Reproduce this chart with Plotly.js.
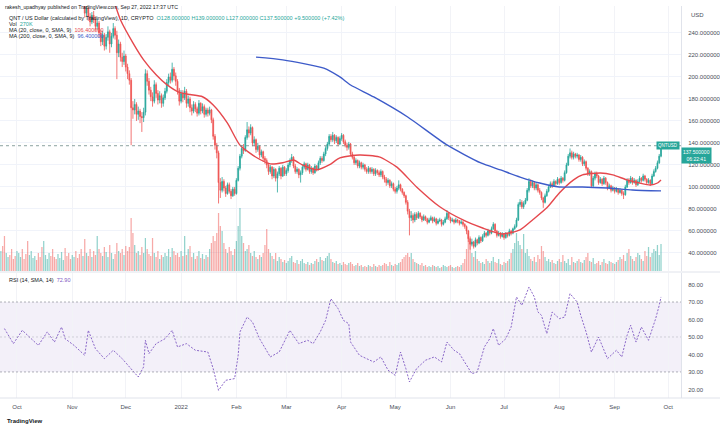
<!DOCTYPE html>
<html><head><meta charset="utf-8">
<script src="https://cdn.plot.ly/plotly-3.0.1.min.js"></script>
<style>html,body{margin:0;padding:0;background:#fff;}#chart{width:720px;height:426px;}</style>
</head><body><div id="chart"></div>
<script>
// ---- DATA (QNT/USD daily, 2021-09-22 .. 2022-09-27) ----
const baseDay = '2021-10-01';          // day index 0
const candleStartDay = -9;             // first candle = 2021-09-22
const firstOpen = 295;
const closes = [
300,292,285,296,310,305,298,290,282,288, 295,302,297,290,286,280,288,294,300,306,
298,292,287,283,290,296,302,308,300,293, 288,284,291,297,303,310,298,286,279,275,
282,288,281,276,272,268,270,
258,262,255,250,256,252,246,249,240,232, 238,228,236,241,230,237,244,238,222,230,
218,214,219,209,203,197,172,170,175,166, 169,164,163,168,203,196,188,182,178,193,
185,179,183,176,181,187,195,200,197,207, 201,196,188,178,185,181,187,176,180,172,
169,175,171,167,176,169,173,166,170,167, 170,161,146,138,131,104,97,105,99,94,
102,96,92,98,94,106,117,128,135,133, 145,152,149,154,140,143,134,137,129,132,
126,124,120,114,118,110,116,108,112,117, 110,118,112,115,120,124,127,119,114,116,
111,113,118,121,116,120,114,117,113,119, 116,122,126,124,130,135,139,146,143,147,
142,145,139,144,147,141,138,136,139,130, 127,122,124,119,122,118,120,116,114,117,
114,116,112,115,113,111,114,109,107,104, 106,101,103,98,96,99,102,98,95,92,
86,78,72,74,70,75,72,76,73,70, 73,71,68,70,72,69,71,67,69,70,
66,68,71,76,72,69,70,68,70,69, 67,68,66,64,60,53,48,50,46,52,
49,54,51,55,58,56,60,58,62,66, 60,56,58,55,57,54,57,56,60,58,
62,64,70,84,86,82,85,88,97,105, 101,104,99,102,97,95,90,86,92,96,
100,103,101,105,103,107,104,108,106,113, 120,128,131,127,130,128,129,125,127,121,
123,117,112,114,101,108,112,110,104,107, 103,108,104,99,101,97,99,96,98,95,
97,94,93,100,106,104,108,104,106,102, 105,108,106,110,107,104,106,103,110,114,
117,122,128,137.5];
const highs = [
306,303,294,300,316,313,308,300,292,292, 299,307,305,299,292,288,292,299,305,312,
309,301,294,290,294,300,307,314,310,302, 295,290,295,301,308,316,312,300,289,282,
286,292,290,284,279,275,274,
272,266,264,258,259,260,254,253,251,243, 242,240,239,246,243,240,249,246,242,234,
232,222,224,221,212,206,199,178,180,177, 173,171,168,172,207,206,199,191,186,197,
195,188,187,185,184,190,198,203,204,213, 209,204,198,190,188,188,191,189,183,182,
175,178,177,173,179,177,176,175,172,172, 173,171,163,148,140,133,108,109,107,101,
104,104,98,100,100,108,119,130,138,139, 147,159,155,157,155,146,144,140,138,134,
133,128,126,122,120,119,118,117,114,119, 118,120,119,117,122,126,130,128,121,118,
117,115,120,123,122,122,121,119,118,121, 120,124,128,128,132,137,141,148,148,150,
148,147,146,146,149,148,143,140,141,140, 132,129,126,125,124,123,122,121,118,119,
118,118,117,117,116,115,116,115,111,109, 108,107,105,104,100,101,106,103,99,96,
93,88,80,78,76,77,77,78,77,74, 75,74,72,72,74,73,73,72,71,72,
71,70,73,79,77,73,72,71,72,71, 70,70,69,67,65,61,55,53,51,54,
53,56,55,57,60,59,62,61,64,68, 67,61,60,59,59,58,59,58,62,61,
63,66,72,86,89,88,87,90,99,108, 107,106,105,104,103,99,96,91,94,98,
102,105,105,107,106,109,108,110,109,115, 122,130,135,133,132,131,131,130,129,128,
125,124,118,116,115,110,114,114,111,109, 108,110,109,105,103,102,101,100,100,99,
99,98,96,102,108,108,110,109,108,107, 107,110,109,112,111,108,108,107,112,116,
119,124,130,139];
const lows = [
290,288,281,282,293,300,294,286,278,279, 285,292,293,285,281,276,276,285,290,297,
294,287,283,279,280,287,293,299,296,288, 283,280,280,288,294,299,294,282,275,271,
272,279,278,272,269,266,266,
254,255,251,246,248,249,242,243,236,228, 229,224,225,233,222,227,235,234,198,218,
214,209,211,205,198,193,138,162,166,160, 161,158,150,159,165,192,184,178,173,176,
181,175,176,172,173,179,185,192,194,195, 197,192,184,174,176,177,179,172,173,168,
165,167,168,164,165,166,167,163,164,164, 165,158,143,134,126,85,90,95,96,91,
93,94,89,91,92,93,105,115,126,130, 132,143,145,147,137,137,131,132,126,127,
123,121,117,111,112,107,108,105,95,110, 107,109,110,110,113,118,122,117,112,112,
108,104,111,116,114,115,112,112,111,112, 114,115,120,122,123,128,133,137,141,141,
139,140,137,138,142,139,136,133,134,128, 125,120,120,117,117,116,116,114,112,112,
112,112,110,110,111,109,109,107,104,101, 102,99,99,96,94,94,97,96,93,90,
84,75,56,69,67,68,70,71,71,68, 69,69,66,67,69,67,68,65,66,68,
64,65,67,70,70,67,68,66,67,67, 65,66,64,62,57,50,43,46,44,45,
47,48,49,50,54,54,55,56,57,61, 58,54,55,53,54,52,53,54,55,56,
57,61,63,69,82,80,80,84,87,95, 99,99,97,97,95,93,88,81,85,91,
95,99,99,100,101,102,102,103,104,105, 112,119,126,125,125,126,126,123,123,119,
119,115,110,110,99,100,106,108,102,103, 101,102,102,97,98,95,96,94,95,93,
94,92,89,92,99,102,103,102,103,100, 101,104,104,105,105,102,103,101,102,109,
113,116,121,127];
// volume (x10K QNT)
const volumes = [
20,25,35,18,14,16,22,12,15,20, 18,14,22,12,17,30,16,20,13,15,
11,18,14,24,30,16,12,18,15,22, 14,12,17,13,19,11,23,15,18,12,
16,14,20,13,17,22,15,
32,18,15,22,14,20,16,35,22,18, 15,24,19,14,26,18,12,17,28,20,
18,22,16,25,20,24,53,
38,26,18,20,16,24,18,33,22,17, 15,33,18,14,20,12,16,14,18,15,
22,14,23,20,16,18,14,20,15,35, 16,22,25,14,18,12,15,20,13,17,
12,16,14,22,28,35,30,38,58,45, 40,28,22,18,24,20,16,22,30,45,
63,35,28,20,22,26,18,15,20,14, 12,16,14,18,26,42,22,18,15,12,
18,10,14,12,9,11,8,10,13,15, 9,8,11,7,10,12,8,7,9,6,
8,7,10,12,9,14,11,10,13,15, 18,12,9,8,10,7,8,6,9,7,
6,8,9,7,5,6,8,5,6,4, 5,4,6,5,4,7,5,4,6,5,
6,8,7,5,9,6,5,7,6,8, 9,12,14,16,18,14,18,12,9,8,
7,6,8,5,6,4,5,4,6,5, 4,5,3,4,6,5,4,5,6,4,
3,4,5,4,6,8,12,22,38,30, 18,14,20,12,10,8,9,7,12,10,
8,10,14,9,8,12,7,6,9,8, 10,12,18,22,28,38,30,26,22,37,
18,22,15,12,10,14,9,16,12,25, 20,14,10,12,9,11,8,7,10,12,
9,16,10,8,12,6,14,9,8,10, 12,9,8,11,14,18,10,9,13,7,
8,10,6,9,12,8,7,10,9,8, 7,9,11,14,12,16,10,18,22,15,
12,10,14,18,16,12,10,20,15,24, 14,18,22,20,26,16,27];
// MA (20) red
const maRedDay = [55,58,65,71,78,84,91,97,104,110,118,125,134,142,149,155,160,168,175,181,192,203,213,224,237,250,261,272,282,289,297,304,312,317,327,334,342,349,355,359,361];
const maRedVal = [266,252,231,215.5,202,193,186,184,182,174.5,158,138,127,121,122,124.5,120,115.5,120,126.4,129,127.3,118,100,82,70,62.7,57.3,61,70,81,94.5,106.4,111,112.7,111,106.4,103.6,101.8,103.6,106.4];
// MA (200) blue
const maBlueDay = [134,149,172,181,187,200,219,241,260,271,282,293,304,317,331,345,361];
const maBlueVal = [218,215.5,208,200,192.7,181.8,163.6,138.2,121.8,115.5,109,103.6,100,100,99,97.3,96.4];
// RSI (14)
const rsiDay = [-7,-2,3,8,12,17,21,25,27,32,38,40,44,49,54,59,63,68,71,72,74,78,83,87,90,95,100,107,110,113,117,122,124,125,129,132,136,142,147,153,158,163,166,170,173,176,180,183,186,187,192,200,204,208,212,215,218,220,224,229,234,238,241,245,248,252,255,258,262,265,267,270,274,277,280,283,287,290,292,294,297,300,304,307,310,314,316,319,322,326,331,336,339,342,344,347,350,354,358,360,361];
const rsiVal = [54.8,46.2,53.8,49,45.2,52.9,47.1,55.7,49,45.2,39.5,53.8,43.3,37.6,42.4,37.6,32.9,27.1,32.9,48.1,40.5,46.2,49,53.8,44.3,46.2,42.4,41.4,31.9,19.5,25.2,26.2,39.5,52.9,61.4,58.6,49,38.6,41.4,53.8,46.2,48.1,46.2,52.9,59.5,71.9,66.2,59.5,57.6,47.1,39.5,35.7,38.6,31,28.1,41.4,31.9,24.3,31.9,36.7,38.6,35.7,47.1,42.4,40.5,33.8,29,30,44.3,49,54.8,45.2,49,55.7,72.9,68.1,78.6,72.9,64.3,62.4,51.9,64.3,60.5,61.4,74.8,70,62.4,52.9,41.4,50,37.6,42.4,38.6,51,56.7,47.1,55.7,48.1,60.5,68.1,72.9];
// axis labels
const monthTickDates = ['2021-10-01','2021-11-01','2021-12-01','2022-01-01','2022-02-01','2022-03-01','2022-04-01','2022-05-01','2022-06-01','2022-07-01','2022-08-01','2022-09-01','2022-10-01'];
const monthTickText = ['Oct','Nov','Dec','2022','Feb','Mar','Apr','May','Jun','Jul','Aug','Sep','Oct'];
const priceTicks = [40,60,80,100,120,140,160,180,200,220,240];
const rsiTicks = [20,30,40,50,60,70,80];

// ---- BUILD ----
const base = Date.parse(baseDay + 'T00:00:00Z');
const toDate = d => new Date(base + d * 864e5).toISOString().slice(0, 10);
const dates = closes.map((_, i) => toDate(candleStartDay + i));
const opens = closes.map((c, i) => i === 0 ? firstOpen : closes[i - 1]);
const UP = '#26a69a', DN = '#ef5350';
const volColors = closes.map((c, i) => c >= opens[i] ? 'rgba(38,166,154,0.5)' : 'rgba(239,83,80,0.5)');
const lastClose = closes[closes.length - 1];
const lastOpen = opens[opens.length - 1];

const traces = [
  {type:'bar', x:dates, y:volumes, xaxis:'x', yaxis:'y3', marker:{color:volColors, line:{width:0}}, width:864e5*0.7, hoverinfo:'skip'},
  {type:'candlestick', x:dates, open:opens, high:highs, low:lows, close:closes, xaxis:'x', yaxis:'y',
   increasing:{line:{color:UP, width:0.8}, fillcolor:UP}, decreasing:{line:{color:DN, width:0.8}, fillcolor:DN},
   whiskerwidth:0, hoverinfo:'skip'},
  {type:'scatter', mode:'lines', x:maRedDay.map(toDate), y:maRedVal, xaxis:'x', yaxis:'y', line:{color:'#e5484d', width:1.4, shape:'spline', smoothing:0.6}, hoverinfo:'skip'},
  {type:'scatter', mode:'lines', x:maBlueDay.map(toDate), y:maBlueVal, xaxis:'x', yaxis:'y', line:{color:'#3d5bc9', width:1.4, shape:'spline', smoothing:0.6}, hoverinfo:'skip'},
  {type:'scatter', mode:'lines', x:rsiDay.map(toDate), y:rsiVal, xaxis:'x', yaxis:'y2', line:{color:'#7e57c2', width:0.9, dash:'2px,1.5px'}, hoverinfo:'skip'}
];

const pyToPaper = py => (398 - py) / 392;
const txt = '#131722';
const fnt = 'Liberation Sans, Arial, sans-serif';
const ann = (py, px, text, size) => ({xref:'paper', yref:'paper', x:px/681, y:pyToPaper(py), xanchor:'left', yanchor:'middle', showarrow:false, text:text, font:{size:size||5.5, color:txt, family:fnt}});

const layout = {
  width:720, height:426, margin:{l:0, r:39, t:6, b:28},
  paper_bgcolor:'#ffffff', plot_bgcolor:'#ffffff', showlegend:false, dragmode:false,
  font:{family:fnt, color:txt},
  xaxis:{anchor:'y2', type:'date', range:['2021-09-21 12:00','2022-10-08 05:00'], tickvals:monthTickDates, ticktext:monthTickText,
         tickfont:{size:6, color:'#4a4e59'}, showgrid:true, gridcolor:'#f2f3f7', gridwidth:1, showline:false, zeroline:false, ticks:'',
         ticklabelstandoff:4, rangeslider:{visible:false}, fixedrange:true},
  yaxis:{domain:[pyToPaper(271), 1], range:[23.6, 264.5], side:'right', tickvals:priceTicks, ticktext:priceTicks.map(v => v.toFixed(6)),
         tickfont:{size:6, color:'#4a4e59'}, gridcolor:'#f0f3fa', showline:true, linecolor:'#e0e3eb', zeroline:false, ticks:'', ticklabelstandoff:5, fixedrange:true},
  yaxis3:{domain:[pyToPaper(271), 1], overlaying:'y', range:[0, 265], visible:false, fixedrange:true},
  yaxis2:{domain:[0, pyToPaper(273)], range:[15.1, 86.6], side:'right', tickvals:rsiTicks, ticktext:rsiTicks.map(v => v.toFixed(2)),
          tickfont:{size:6, color:'#4a4e59'}, showgrid:false, showline:true, linecolor:'#e0e3eb', zeroline:false, ticks:'', ticklabelstandoff:5, fixedrange:true},
  shapes:[
    {type:'rect', xref:'paper', yref:'y2', x0:0, x1:1, y0:30, y1:70, fillcolor:'rgba(126,87,194,0.09)', line:{width:0}, layer:'below'},
    {type:'line', xref:'paper', yref:'y2', x0:0, x1:1, y0:70, y1:70, line:{color:'#9a9ca6', width:0.8, dash:'2px,2px'}},
    {type:'line', xref:'paper', yref:'y2', x0:0, x1:1, y0:50, y1:50, line:{color:'rgba(154,156,166,0.5)', width:0.8, dash:'2px,2px'}},
    {type:'line', xref:'paper', yref:'y2', x0:0, x1:1, y0:30, y1:30, line:{color:'#9a9ca6', width:0.8, dash:'2px,2px'}},
    {type:'line', xref:'paper', yref:'y', x0:0, x1:1, y0:lastClose, y1:lastClose, line:{color:'#6f8c88', width:0.8, dash:'3px,3px'}},
    {type:'line', xref:'paper', yref:'paper', x0:0, x1:720/681, y0:pyToPaper(272), y1:pyToPaper(272), line:{color:'#e0e3eb', width:1}},
    {type:'line', xref:'paper', yref:'paper', x0:0, x1:720/681, y0:0, y1:0, line:{color:'#e0e3eb', width:1}}
  ],
  annotations:[
    ann(7, 3, 'rakesh_upadhyay published on TradingView.com, Sep 27, 2022 17:37 UTC', 5.2),
    ann(18, 7, 'QNT / US Dollar (calculated by TradingView), 1D, CRYPTO  <span style="color:#26a69a">O' + lastOpen.toFixed(6) + ' H139.000000 L127.000000 C' + lastClose.toFixed(6) + ' +' + (lastClose - lastOpen).toFixed(6) + ' (+' + ((lastClose - lastOpen) / lastOpen * 100).toFixed(2) + '%)</span>'),
    ann(24, 7, 'Vol  <span style="color:#26a69a">270K</span>'),
    ann(30, 7, 'MA (20, close, 0, SMA, 9)  <span style="color:#e5484d">' + maRedVal[maRedVal.length - 1].toFixed(6) + '</span>'),
    ann(36, 7, 'MA (200, close, 0, SMA, 9)  <span style="color:#3d5bc9">' + maBlueVal[maBlueVal.length - 1].toFixed(6) + '</span>'),
    ann(280, 7, 'RSI (14, SMA, 14)  <span style="color:#7e57c2">' + rsiVal[rsiVal.length - 1].toFixed(2) + '</span>'),
    {xref:'paper', yref:'paper', x:0.008, y:pyToPaper(421), xanchor:'left', yanchor:'middle', showarrow:false,
     text:'<b>TradingView</b>', font:{size:6, color:'#131722', family:fnt}},
    {xref:'paper', yref:'paper', x:1.012, y:pyToPaper(15), xanchor:'left', yanchor:'middle', showarrow:false, text:'USD', font:{size:6, color:'#4a4e59', family:fnt}},
    {xref:'paper', yref:'y', x:1, y:lastClose, xanchor:'left', yanchor:'top', yshift:-1.5, showarrow:false,
     text:lastClose.toFixed(6) + '<br>06:22:41', bgcolor:UP, borderpad:1, font:{size:5, color:'#ffffff', family:fnt}},
    {xref:'paper', yref:'y', x:0.999, y:lastClose, xanchor:'right', yanchor:'middle', showarrow:false,
     text:'QNTUSD', bgcolor:UP, borderpad:1, font:{size:4.5, color:'#ffffff', family:fnt}}
  ]
};

Plotly.newPlot('chart', traces, layout, {staticPlot:true, displayModeBar:false});
</script>
</body></html>
